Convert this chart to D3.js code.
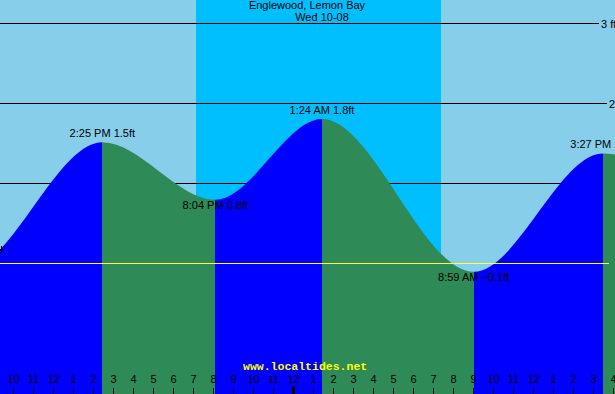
<!DOCTYPE html>
<html>
<head>
<meta charset="utf-8">
<script src="https://cdn.jsdelivr.net/npm/d3@7"></script>
<style>
  html, body { margin: 0; padding: 0; background: #fff; }
  svg { display: block; }
  text { font-family: "Liberation Sans", Arial, sans-serif; font-size: 11px; fill: #000; }
</style>
</head>
<body>
<div id="chart"></div>
<script>
// tide extremes (first two and last two fall outside the visible window)
var tideTimes = ["2025-10-07T01:10", "2025-10-07T07:35", "2025-10-07T14:25", "2025-10-07T20:04",
                 "2025-10-08T01:24", "2025-10-08T08:59", "2025-10-08T15:27", "2025-10-08T21:20",
                 "2025-10-09T02:10"];
var tideHeights = [1.7, -0.09, 1.51, 0.79, 1.80, -0.11, 1.37, 0.85, 1.75];

var viewStart = "2025-10-07T09:18", viewEnd = "2025-10-08T16:03";
var sunset = "2025-10-07T19:07", sunrise = "2025-10-08T07:21";

var hourLabels = ["10","11","12","1","2","3","4","5","6","7","8","9","10","11","12",
                  "1","2","3","4","5","6","7","8","9","10","11","12","1","2","3","4"];
var levelValues = [-1, 0, 1, 2, 3];
var levelLabels = ["-1", "0", "1", "2", "3 ft"];

var title = "Englewood, Lemon Bay", subtitle = "Wed 10-08", site = "www.localtides.net";

var width = 615, height = 394;
var parse = d3.timeParse("%Y-%m-%dT%H:%M");
var fmtTime = d3.timeFormat("%-I:%M %p"), fmtFt = d3.format(".1f");

var tides = tideTimes.map(function(t, i) { return {t: parse(t), h: tideHeights[i]}; });

var x = d3.scaleTime().domain([parse(viewStart), parse(viewEnd)]).range([0, width]);
var y = d3.scaleLinear().domain([-1, 3]).range([343, 23]);

var svg = d3.select("#chart").append("svg")
    .attr("width", width).attr("height", height);

// day / night background
svg.append("rect").attr("width", width).attr("height", height).attr("fill", "#87ceeb");
svg.append("rect")
    .attr("x", Math.round(x(parse(sunset))))
    .attr("width", Math.round(x(parse(sunrise))) - Math.round(x(parse(sunset))))
    .attr("height", height).attr("fill", "#00bfff");

// level labels + lines
var levels = svg.append("g");
levelValues.forEach(function(v, i) {
  var ly = Math.round(y(v)) + 0.5;
  var t = levels.append("text")
      .attr("y", ly + 4)
      .text(levelLabels[i]);
  if (i === levelValues.length - 1) t.attr("x", 601);
  else t.attr("x", 615).attr("text-anchor", "end");
  var bx = t.node().getBBox().x;
  if (v !== 0) {
    levels.insert("line", "text")
        .attr("x1", 0).attr("x2", bx - 2)
        .attr("y1", ly).attr("y2", ly)
        .attr("stroke", "#000");
  }
});

// tide area, coloured rising / falling
var area = d3.area()
    .x(function(d) { return x(d.t); })
    .y0(height)
    .y1(function(d) { return y(d.h); })
    .curve(d3.curveMonotoneX);

var defs = svg.append("defs");
for (var i = 0; i < tides.length - 1; i++) {
  var x0 = Math.round(x(tides[i].t)), x1 = Math.round(x(tides[i + 1].t));
  defs.append("clipPath").attr("id", "seg" + i)
    .append("rect").attr("x", x0).attr("y", 0).attr("width", x1 - x0).attr("height", height);
  svg.append("path")
      .datum(tides)
      .attr("d", area)
      .attr("clip-path", "url(#seg" + i + ")")
      .attr("fill", tides[i + 1].h > tides[i].h ? "#0000ff" : "#2e8b57");
}

// zero line on top
svg.append("line")
    .attr("x1", 0).attr("x2", 609)
    .attr("y1", Math.round(y(0)) + 0.5).attr("y2", Math.round(y(0)) + 0.5)
    .attr("stroke", "#ffff40");

// small marker at left edge
svg.append("path")
    .attr("d", "M0,249.5H4M1.5,246V253")
    .attr("stroke", "#000").attr("fill", "none");

// extreme labels
var shown = tides.filter(function(d, i) {
  return d.t >= x.domain()[0] && d.t <= x.domain()[1];
});
svg.append("g").selectAll("text")
  .data(shown)
  .enter().append("text")
    .attr("x", function(d) { return x(d.t); })
    .attr("y", function(d) {
      var i = tides.indexOf(d);
      var high = d.h > tides[i - 1].h;
      return high ? y(d.h) - 5 : y(d.h) + 9.5;
    })
    .attr("text-anchor", "middle")
    .text(function(d) { return fmtTime(d.t) + " " + fmtFt(d.h) + "ft"; });

// title
svg.append("text").attr("x", 307).attr("y", 9).attr("text-anchor", "middle").text(title);
svg.append("text").attr("x", 322).attr("y", 20.5).attr("text-anchor", "middle").text(subtitle);

// hour axis along the bottom
var hours = d3.timeHour.range(parse("2025-10-07T10:00"), parse("2025-10-08T16:01"));
var axis = svg.append("g");
axis.selectAll("text")
  .data(hours)
  .enter().append("text")
    .attr("x", function(d) { return Math.round(x(d)) - 0.5; })
    .attr("y", 382.5)
    .attr("text-anchor", "middle")
    .text(function(d, i) { return hourLabels[i]; });
axis.selectAll("line")
  .data(hours)
  .enter().append("line")
    .attr("x1", function(d) { return Math.round(x(d)) - 0.5; })
    .attr("x2", function(d) { return Math.round(x(d)) - 0.5; })
    .attr("y1", function(d) { return d.getHours() === 0 ? 386 : 388; })
    .attr("y2", height)
    .attr("stroke", "#000")
    .attr("stroke-width", function(d) { return d.getHours() === 0 ? 3 : 1; });

svg.append("text")
    .attr("x", 243).attr("y", 370)
    .style("font-family", "'Liberation Mono', 'DejaVu Sans Mono', monospace")
    .style("font-size", "11.5px").style("font-weight", "bold").style("fill", "#ffff00")
    .text(site);
</script>
</body>
</html>
